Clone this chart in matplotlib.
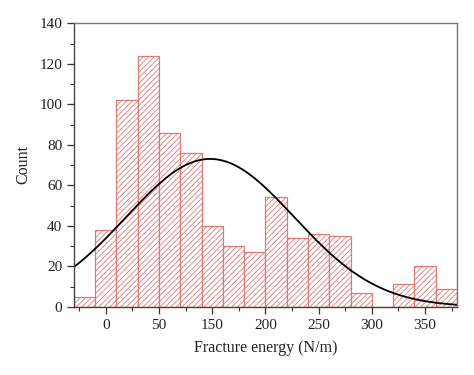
import matplotlib
matplotlib.use("Agg")
import matplotlib.pyplot as plt
import numpy as np

# histogram bins (20 wide) and counts
bin_edges = np.arange(20, 381, 20)
counts = [5, 38, 102, 124, 86, 76, 40, 30, 27, 54, 34, 36, 35, 7, 0, 11, 20, 9]
tick_pos = [50, 100, 150, 200, 250, 300, 350]
tick_labels = ["0", "50", "150", "200", "250", "300", "350"]

# normal fit drawn over the histogram (parameters)
fit_mean = 148
fit_sd = 79
fit_peak = 73

plt.rcParams["font.family"] = ["Liberation Serif", "DejaVu Serif"]
plt.rcParams["hatch.linewidth"] = 0.6

fig = plt.figure(figsize=(4.74, 3.75), dpi=100)
ax = fig.add_axes([0.156, 0.182, 0.808, 0.756])

red = "#dc7a7a"
centers = (bin_edges[:-1] + bin_edges[1:]) / 2
width = np.diff(bin_edges)
ax.bar(centers, counts, width=width, color="white", edgecolor=red,
       hatch="//////", linewidth=0.9)

xs = np.linspace(bin_edges[0], bin_edges[-1], 400)
ys = fit_peak * np.exp(-(xs - fit_mean) ** 2 / (2 * fit_sd ** 2))
ax.plot(xs, ys, color="black", linewidth=1.3)

ax.set_xlim(20, 380)
ax.set_ylim(0, 140)
ax.set_xticks(tick_pos)
ax.set_xticklabels(tick_labels)
ax.set_xticks(np.arange(25, 380, 50), minor=True)
ax.set_yticks(np.arange(0, 141, 20))
ax.set_yticks(np.arange(10, 140, 20), minor=True)
ax.tick_params(axis="both", which="both", direction="out", labelsize=11,
               colors="#333333", labelcolor="#222222")
ax.tick_params(which="major", length=5, width=0.9)
ax.tick_params(which="minor", length=3, width=0.8)
for side in ["left", "bottom"]:
    ax.spines[side].set_color("#444444")
for side in ["top", "right"]:
    ax.spines[side].set_color("#777777")
for s in ax.spines.values():
    s.set_linewidth(1.0)

ax.set_xlabel("Fracture energy (N/m)", fontsize=11.5, color="#222222", labelpad=6)
ax.set_ylabel("Count", fontsize=11.5, color="#222222", labelpad=6)

fig.savefig("out.png", dpi=100)
